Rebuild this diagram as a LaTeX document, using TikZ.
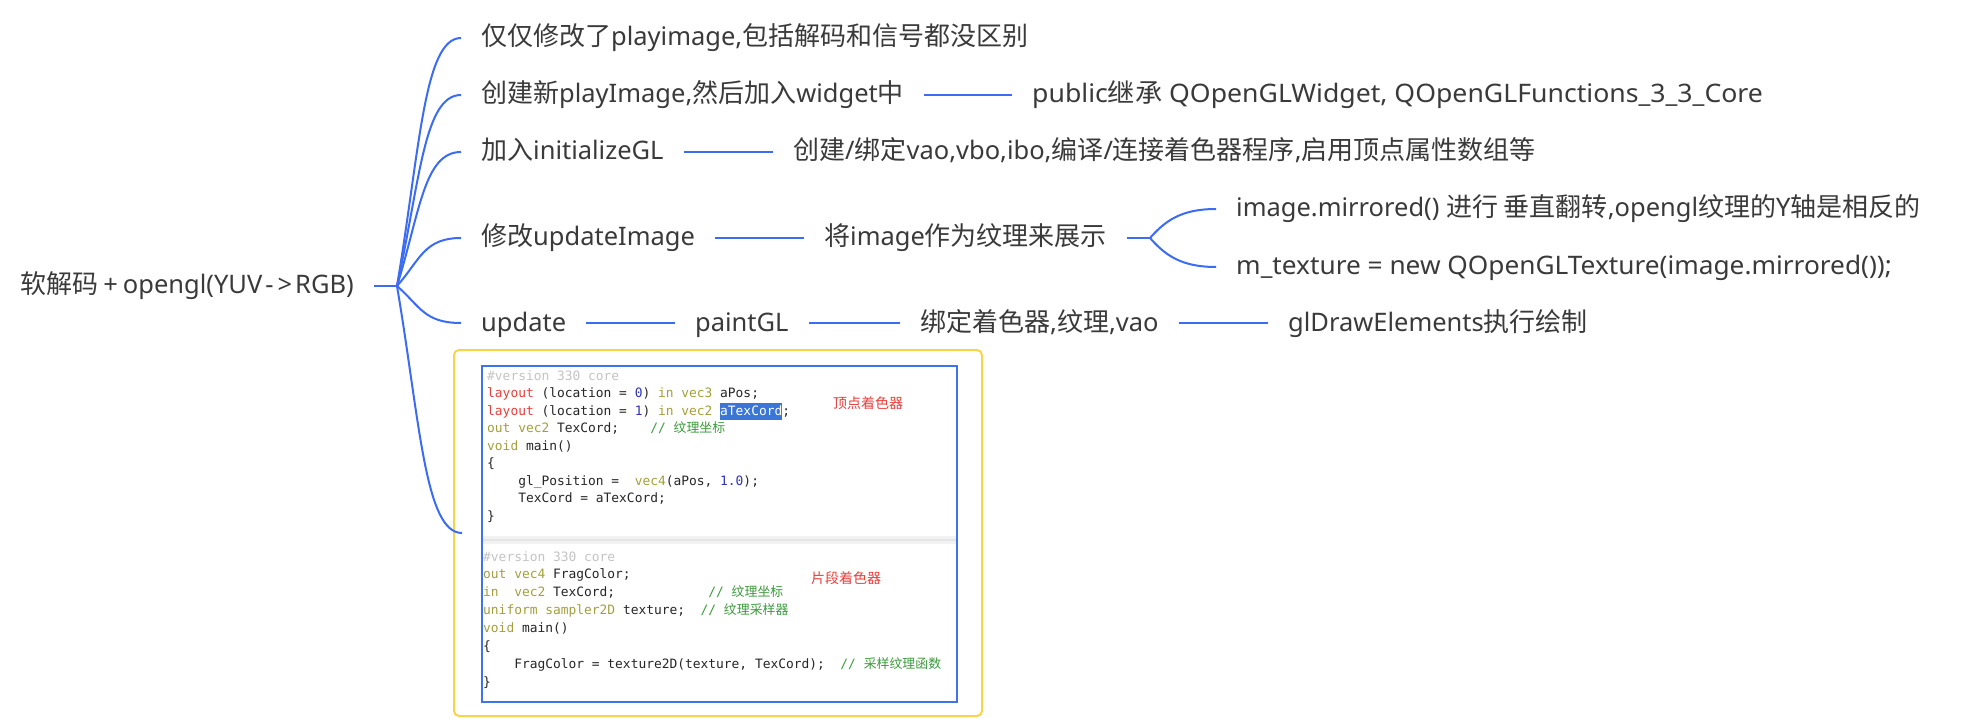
\documentclass[tikz,border=0pt]{standalone}
\usepackage{graphicx}
\usepackage{fontspec}
\setmainfont{Noto Sans}[Scale=0.98]
\newfontfamily\cjk{Noto Sans CJK SC}
\newfontfamily\codefont{DejaVu Sans Mono}
\newcommand\zh[1]{{\cjk #1}}
\definecolor{linec}{HTML}{3B6CF2}
\definecolor{txtc}{HTML}{3A3A3A}
\definecolor{yel}{HTML}{F6D548}
\definecolor{boxb}{HTML}{3F73EE}
\definecolor{kwc}{HTML}{E8403C}
\definecolor{tyc}{HTML}{A3A03A}
\definecolor{nmc}{HTML}{2E35B5}
\definecolor{cmc}{HTML}{3E9A3E}
\definecolor{grc}{HTML}{C4C4C4}
\definecolor{hlc}{HTML}{3A76D6}
\definecolor{codec}{HTML}{262626}
\definecolor{redl}{HTML}{E8403C}
\newcommand\kw[1]{\textcolor{kwc}{#1}}
\newcommand\ty[1]{\textcolor{tyc}{#1}}
\newcommand\nm[1]{\textcolor{nmc}{#1}}
\newcommand\cm[1]{\textcolor{cmc}{#1}}
\newcommand\gr[1]{\textcolor{grc}{#1}}
\newcommand\hlt[1]{{\setlength\fboxsep{0pt}\colorbox{hlc}{\rule[-5pt]{0pt}{17pt}\textcolor{white}{#1}}}}
\frenchspacing
\tikzset{
  txt/.style={font=\fontsize{26}{30}\selectfont, text=txtc, inner xsep=20pt, inner ysep=0pt, text height=20pt, text depth=4pt},
  conn/.style={draw=linec, line width=2pt},
  codeln/.style={anchor=base west, inner sep=0pt, font=\codefont\fontsize{12.9}{15}\selectfont, text=codec},
  redlabel/.style={font=\cjk\fontsize{14}{16}\selectfont, text=redl, inner sep=0pt},
  codeframe/.style={draw=yel, line width=2pt, rounded corners=5pt, minimum width=528pt, minimum height=366pt, inner sep=0pt},
  shotframe/.style={draw=boxb, line width=2.5pt, minimum width=475pt, minimum height=336pt, inner sep=0pt}
}
\begin{document}
\begin{tikzpicture}[x=1pt,y=-1pt]
\fill[white] (0,0) rectangle (1972,719);
\useasboundingbox (0,0) rectangle (1972,719);

% root
\node[txt, anchor=east] (root) at (374,286) {\zh{软解码}\kern5pt+\kern5pt opengl(YUV\kern3pt-\kern4pt>\kern3pt RGB)};
\coordinate (br) at (397,286);

% level 1
\node[txt, anchor=west] (a1) at (461,38) {\zh{仅仅修改了}playimage,\zh{包括解码和信号都没区别}};
\node[txt, anchor=west] (a2) at (461,95) {\zh{创建新}playImage,\zh{然后加入}widget\zh{中}};
\node[txt, anchor=west] (a3) at (461,152) {\zh{加入}initializeGL};
\node[txt, anchor=west] (a4) at (461,238) {\zh{修改}updateImage};
\node[txt, anchor=west] (a5) at (461,323) {update};

% level 2+
\node[txt, anchor=west] (b2) at (1012,95) {\scalebox{1.045}[1]{public\zh{继承} QOpenGLWidget, QOpenGLFunctions\_3\_3\_Core}};
\node[txt, anchor=west] (b3) at (773,152) {\zh{创建}/\zh{绑定}vao,vbo,ibo,\zh{编译}/\zh{连接着色器程序},\zh{启用顶点属性数组等}};
\node[txt, anchor=west] (b4) at (804,238) {\zh{将}image\zh{作为纹理来展示}};
\coordinate (br2) at (1150,238);
\node[txt, anchor=west] (e1) at (1216,209) {image.mirrored() \zh{进行 垂直翻转},opengl\zh{纹理的}Y\zh{轴是相反的}};
\node[txt, anchor=west] (e2) at (1216,267) {\scalebox{1.03}[1]{m\_texture = new QOpenGLTexture(image.mirrored());}};
\node[txt, anchor=west] (b5) at (675,323) {paintGL};
\node[txt, anchor=west] (c5) at (900,323) {\zh{绑定着色器},\zh{纹理},vao};
\node[txt, anchor=west] (d5) at (1268,323) {glDrawElements\zh{执行绘制}};

% image block
\node[codeframe] (img) at (718,533) {};
\coordinate (imgin) at (462,533);
\fill[black!5] (483,536) rectangle (956,544);
\draw[black!10, line width=1.2pt] (483,540) -- (956,540);

\node[codeln] (c1) at (487,380) {\gr{\#version~330~core}};
\node[codeln] (c2) at (487,397.5) {\kw{layout}~(location~=~\nm{0})~\ty{in}~\ty{vec3}~aPos;};
\node[codeln] (c3) at (487,415) {\kw{layout}~(location~=~\nm{1})~\ty{in}~\ty{vec2}~\hlt{aTexCord};};
\node[codeln] (c4) at (487,432.5) {\ty{out}~\ty{vec2}~TexCord;~~~~\cm{//~\zh{纹理坐标}}};
\node[codeln] (c5l) at (487,450) {\ty{void}~main()};
\node[codeln] (c6) at (487,467.5) {\{};
\node[codeln] (c7) at (487,485) {~~~~gl\_Position~=~~\ty{vec4}(aPos,~\nm{1.0});};
\node[codeln] (c8) at (487,502.5) {~~~~TexCord~=~aTexCord;};
\node[codeln] (c9) at (487,520) {\}};
\node[redlabel] (vlab) at (868,403) {顶点着色器};

\node[codeln] (f1) at (483,561) {\gr{\#version~330~core}};
\node[codeln] (f2) at (483,578.9) {\ty{out}~\ty{vec4}~FragColor;};
\node[codeln] (f3) at (483,596.7) {\ty{in}~~\ty{vec2}~TexCord;~~~~~~~~~~~~\cm{//~\zh{纹理坐标}}};
\node[codeln] (f4) at (483,614.6) {\ty{uniform}~\ty{sampler2D}~texture;~~\cm{//~\zh{纹理采样器}}};
\node[codeln] (f5) at (483,632.4) {\ty{void}~main()};
\node[codeln] (f6) at (483,650.3) {\{};
\node[codeln] (f7) at (483,668.1) {~~~~FragColor~=~texture2D(texture,~TexCord);~~\cm{//~\zh{采样纹理函数}}};
\node[codeln] (f8) at (483,686) {\}};
\node[redlabel] (flab) at (846,578) {片段着色器};

\node[shotframe] (shot) at (719.5,534) {};

% connectors
\draw[conn] (root.east) -- (br);
\draw[conn] (br) .. controls +(23,-137) and +(-37,0) .. (a1.west);
\draw[conn] (br) .. controls +(23,-105) and +(-37,0) .. (a2.west);
\draw[conn] (br) .. controls +(23,-74) and +(-37,0) .. (a3.west);
\draw[conn] (br) .. controls +(23,-26) and +(-37,0) .. (a4.west);
\draw[conn] (br) .. controls +(23,20) and +(-37,0) .. (a5.west);
\draw[conn] (br) .. controls +(23,136) and +(-37,0) .. (imgin);

\draw[conn] (a2.east) -- (b2.west);
\draw[conn] (a3.east) -- (b3.west);
\draw[conn] (a4.east) -- (b4.west);
\draw[conn] (b4.east) -- (br2);
\draw[conn] (br2) .. controls +(15,-17) and +(-35,0) .. (e1.west);
\draw[conn] (br2) .. controls +(15,17) and +(-35,0) .. (e2.west);
\draw[conn] (a5.east) -- (b5.west);
\draw[conn] (b5.east) -- (c5.west);
\draw[conn] (c5.east) -- (d5.west);
\end{tikzpicture}
\end{document}
